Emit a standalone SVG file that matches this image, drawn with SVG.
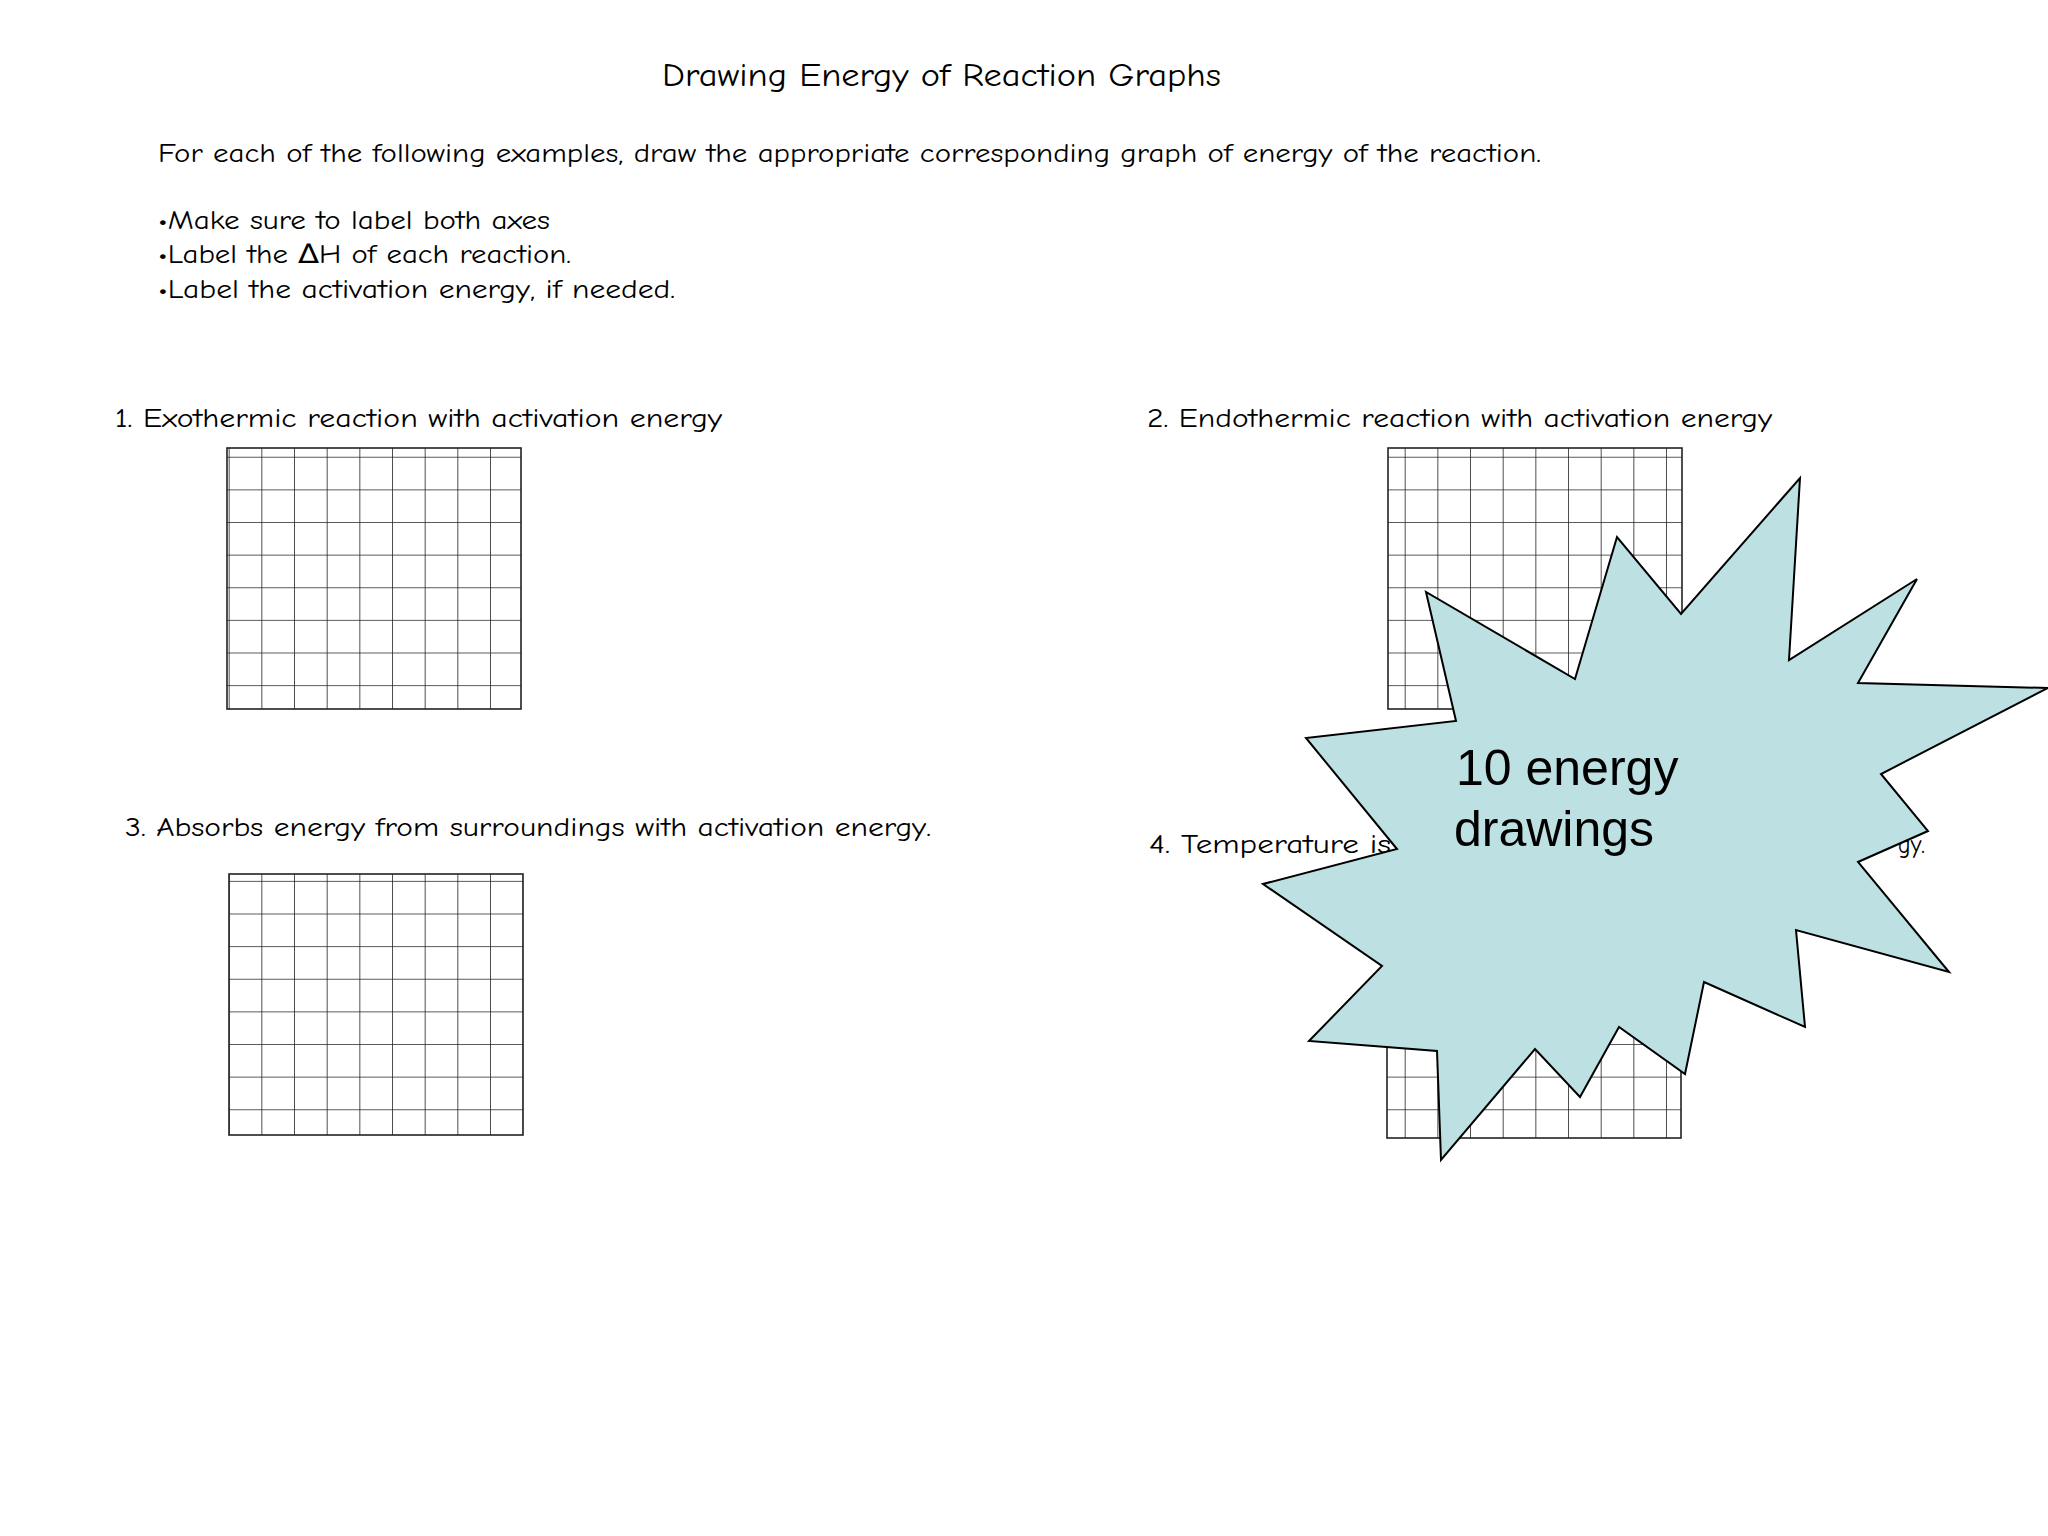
<svg xmlns="http://www.w3.org/2000/svg" width="2048" height="1536" viewBox="0 0 2048 1536">
<defs>
<style>
.t{font-family:"Comic Neue","DejaVu Sans","Liberation Sans",sans-serif;fill:#000}
.g{fill:none;stroke:#222;stroke-width:1.6}
</style>
<pattern id="cell" width="32.667" height="32.625" patternUnits="userSpaceOnUse">
<path d="M0 0H32.667M0 0V32.625" fill="none" stroke="#222" stroke-width="1.6"/>
</pattern>
</defs>
<rect width="2048" height="1536" fill="#fff"/>
<text class="t" x="662" y="86" font-size="32" textLength="559" lengthAdjust="spacingAndGlyphs">Drawing Energy of Reaction Graphs</text>
<text class="t" x="158" y="162" font-size="27" textLength="1383" lengthAdjust="spacingAndGlyphs">For each of the following examples, draw the appropriate corresponding graph of energy of the reaction.</text>
<text class="t" x="158" y="229" font-size="27" textLength="392" lengthAdjust="spacingAndGlyphs">•Make sure to label both axes</text>
<text class="t" x="158" y="263" font-size="27" textLength="413" lengthAdjust="spacingAndGlyphs">•Label the ∆H of each reaction.</text>
<text class="t" x="158" y="298" font-size="27" textLength="517" lengthAdjust="spacingAndGlyphs">•Label the activation energy, if needed.</text>
<g id="q1"><text class="t" x="115" y="427" font-size="27" textLength="607" lengthAdjust="spacingAndGlyphs">1.  Exothermic reaction with activation energy</text>
<g id="grid1"><rect x="227" y="448" width="294" height="261" fill="url(#cell)"/><rect class="g" x="227" y="448" width="294" height="261"/></g></g>
<g id="q2"><text class="t" x="1147" y="427" font-size="27" textLength="625" lengthAdjust="spacingAndGlyphs">2.  Endothermic reaction with activation energy</text>
<g id="grid2"><rect x="1388" y="448" width="294" height="261" fill="url(#cell)" transform="translate(0,0)"/><rect class="g" x="1388" y="448" width="294" height="261"/></g></g>
<g id="q3"><text class="t" x="125" y="836" font-size="27" textLength="806" lengthAdjust="spacingAndGlyphs">3.  Absorbs energy from surroundings with activation energy.</text>
<g id="grid3"><rect x="229" y="874" width="294" height="261" fill="url(#cell)"/><rect class="g" x="229" y="874" width="294" height="261"/></g></g>
<g id="q4"><text class="t" x="1149" y="853" font-size="27" textLength="242" lengthAdjust="spacingAndGlyphs">4.  Temperature is</text>
<text class="t" x="1898" y="853" font-size="27" textLength="27" lengthAdjust="spacingAndGlyphs">gy.</text>
<g id="grid4"><rect x="1387" y="877" width="294" height="261" fill="url(#cell)"/><rect class="g" x="1387" y="877" width="294" height="261"/></g></g>
<g id="burst">
<polygon points="1800,478 1789,660 1917,579 1858,683 2048,688 1881,774 1928,831 1858,862 1949,972 1796,930 1805,1027 1704,982 1685,1074 1619,1027 1580,1097 1535,1049 1441,1160 1437,1051 1309,1041 1382,966 1263,884 1397,849 1306,738 1456,721 1426,592 1575,679 1617,537 1681,614" fill="#bde0e3" stroke="#000" stroke-width="2"/>
<text x="1456" y="785" font-family="'Liberation Sans',Arial,sans-serif" font-size="50">10 energy</text>
<text x="1454" y="846" font-family="'Liberation Sans',Arial,sans-serif" font-size="50">drawings</text>
</g>
<g id="connectors"/>
</svg>
